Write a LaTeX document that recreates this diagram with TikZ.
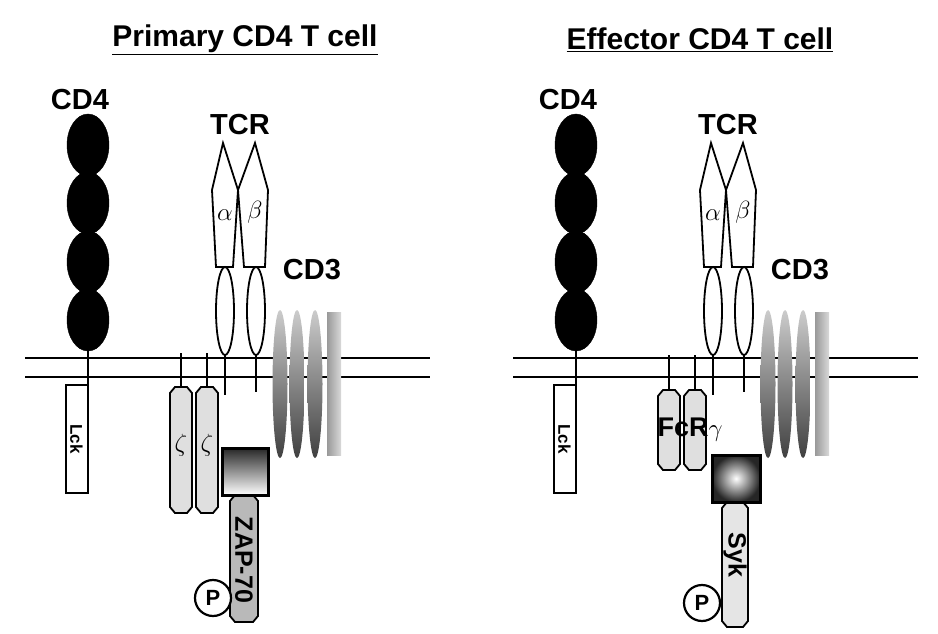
\documentclass[tikz,border=0pt]{standalone}
\usepackage{fontspec}
\setmainfont{Liberation Sans}
\usetikzlibrary{shapes.geometric}
\begin{document}
\begin{tikzpicture}[x=1pt,y=-1pt,
  lbl/.style={font=\bfseries\fontsize{29}{31}\selectfont,inner sep=0},
  ttl/.style={font=\bfseries\fontsize{30}{33}\selectfont,inner sep=1pt},
  ln/.style={line width=2.6pt},
  cdf/.style={fill=black,draw=black},
  pill/.style={draw=black,line width=1.8pt},
  pc/.style={circle,draw=black,line width=2.2pt,fill=white,minimum size=36pt,inner sep=0,font=\bfseries\fontsize{22}{24}\selectfont}]
\useasboundingbox (0,0) rectangle (938,634);
\def\pillpath#1#2#3#4{(#1,#2+6) -- (#1+5,#2) -- (#3-5,#2) -- (#3,#2+6) -- (#3,#4-6) -- (#3-5,#4) -- (#1+5,#4) -- (#1,#4-6) -- cycle}
\newcommand{\cell}[2]{%
\begin{scope}[xshift=#1]
% membrane
\draw[ln] (25,358) -- (430,358);
\draw[ln] (25,377) -- (430,377);
% CD4
\node[lbl] (cd4#2) at (80,100) {CD4};
\draw[ln] (88,320) -- (88,430);
\foreach \yy/\k in {145/a,203/b,262/c,320/d}
  \node[cdf,ellipse,minimum width=42pt,minimum height=62pt,inner sep=0] (e\k#2) at (88,\yy) {};
\node[draw,line width=2pt,minimum width=22pt,minimum height=108pt,inner sep=0,fill=white] (lck#2) at (76.5,439) {};
\node[rotate=-90,font=\bfseries\fontsize{17}{19}\selectfont] at (lck#2) {Lck};
% TCR
\node[lbl] (tcr#2) at (240,125) {TCR};
\draw[line width=1.8pt,fill=white] (223,143) -- (238,190) -- (233,267) -- (216,267) -- (212,190) -- cycle;
\draw[line width=1.8pt,fill=white] (255,143) -- (268,190) -- (265,267) -- (244,267) -- (238,190) -- cycle;
\node[font=\fontsize{28}{30}\selectfont] at (225,215) {$\alpha$};
\node[font=\fontsize{28}{30}\selectfont] at (255,212) {$\beta$};
\draw[line width=1.8pt,fill=white] (225,311) ellipse (9 and 44);
\draw[line width=1.8pt,fill=white] (256,311) ellipse (9 and 44);
\draw[ln] (225,355) -- (225,395);
\draw[ln] (256,355) -- (256,392);
% CD3
\node[lbl] (cd3#2) at (312,270) {CD3};
\foreach \xx in {280,297,315}
  \shade[left color=gray!40,right color=black!75,shading angle=0] (\xx,384) ellipse (7.5 and 74);
\shade[left color=gray!80,right color=gray!30] (327,312) rectangle (341,455);
\end{scope}}
\cell{0}{L}
\cell{488}{R}
% titles
\node[ttl] (t1) at (245,40) {\underline{Primary CD4 T cell}};
\node[ttl] (t2) at (700,40) {\underline{Effector CD4 T cell}};
% zeta chains
\foreach \xa/\k in {170/a,196/b}{
  \draw[ln] (\xa+11,353) -- (\xa+11,387);
  \draw[pill,fill=gray!25] \pillpath{\xa}{387}{\xa+22}{513};
  \node[font=\fontsize{28}{30}\selectfont] (z\k) at (\xa+11,445) {$\zeta$};
}
% ZAP
\draw[pill,fill=gray!55] \pillpath{230}{495}{258}{622};
\node[rotate=-90,font=\bfseries\fontsize{25}{27}\selectfont] (zaptxt) at (244,560) {ZAP-70};
\shade[top color=black!85,bottom color=white] (222,448) rectangle (268,495);
\draw[line width=3pt] (222,448) rectangle (268,495);
\node[pc] (p1) at (213,598) {P};
% FcR gamma
\foreach \xa in {658,684}{
  \draw[ln] (\xa+11,355) -- (\xa+11,390);
  \draw[pill,fill=gray!25] \pillpath{\xa}{390}{\xa+22}{470};
}
\node[font=\bfseries\fontsize{27}{29}\selectfont,inner sep=0] (fcr) at (690,430) {FcR$\gamma$};
% Syk
\draw[pill,fill=gray!20] \pillpath{722}{502}{748}{627};
\node[rotate=-90,font=\bfseries\fontsize{25}{27}\selectfont] (syk) at (735,555) {Syk};
\shade[inner color=white,outer color=black!85] (712,455) rectangle (760,502);
\draw[line width=3pt] (712,455) rectangle (760,502);
\node[pc] (p2) at (702,603) {P};
\end{tikzpicture}
\end{document}
